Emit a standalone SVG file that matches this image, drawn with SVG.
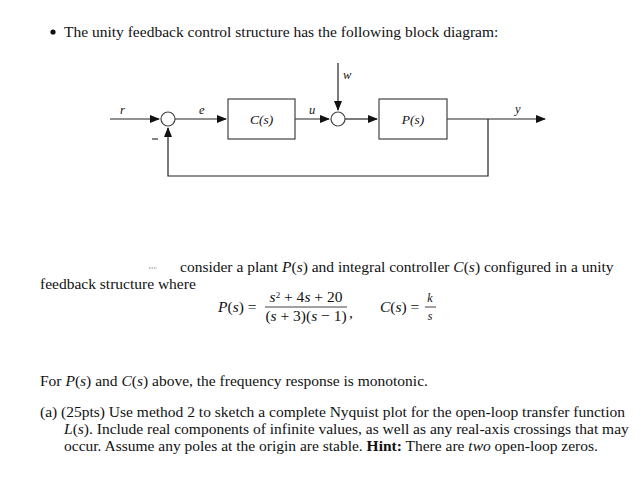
<svg xmlns="http://www.w3.org/2000/svg" width="641" height="478" viewBox="0 0 641 478">
<style>
.t{font-family:"Liberation Serif",serif;font-size:15.5px;fill:#111}
.m{font-family:"Liberation Serif",serif;font-style:italic;fill:#111}
.l{stroke:#222;stroke-width:1.2;fill:none}
.b{fill:#fff;stroke:#444;stroke-width:1.2}
</style>
<defs><marker id="a" markerWidth="10" markerHeight="8" refX="9" refY="4" orient="auto" markerUnits="userSpaceOnUse"><path d="M0,0L10,4L0,8z" fill="#111"/></marker></defs>
<rect width="641" height="478" fill="#fff"/>
<circle cx="53" cy="32" r="2.6" fill="#111"/>
<text class="t" x="64" y="37" font-size="17">The unity feedback control structure has the following block diagram:</text>
<g id="connectors">
<path class="l" d="M110,119H159" marker-end="url(#a)"/>
<path class="l" d="M175,119H226" marker-end="url(#a)"/>
<path class="l" d="M295,119H329" marker-end="url(#a)"/>
<path class="l" d="M338,63V110" marker-end="url(#a)"/>
<path class="l" d="M345,119H377" marker-end="url(#a)"/>
<path class="l" d="M447,119H545" marker-end="url(#a)"/>
<path class="l" d="M488,119V176H168V128" marker-end="url(#a)"/>
</g>
<g id="sum1"><circle class="b" cx="168" cy="119" r="7"/></g>
<g id="sum2"><circle class="b" cx="338" cy="119" r="7"/></g>
<g id="C"><rect class="b" x="228" y="99" width="67" height="40"/><text class="m" x="261.5" y="124" font-size="13.5" text-anchor="middle">C(s)</text></g>
<g id="P"><rect class="b" x="379" y="99" width="68" height="40"/><text class="m" x="413" y="124" font-size="13.5" text-anchor="middle">P(s)</text></g>
<g font-size="12.5">
<text class="m" x="120" y="114">r</text>
<text class="m" x="199" y="114">e</text>
<text class="m" x="309" y="114">u</text>
<text class="m" x="343" y="79">w</text>
<text class="m" x="515" y="113">y</text>
</g>
<path d="M152,139H158" stroke="#222" stroke-width="1.1"/>
<path d="M149,268H157" stroke="#888" stroke-width="1" stroke-dasharray="1.5 1"/>
<text class="t" x="180" y="272">consider a plant <tspan font-style="italic">P</tspan>(<tspan font-style="italic">s</tspan>) and integral controller <tspan font-style="italic">C</tspan>(<tspan font-style="italic">s</tspan>) configured in a unity</text>
<text class="t" x="40" y="289">feedback structure where</text>
<text class="t" x="218" y="312" font-size="14"><tspan font-style="italic">P</tspan>(<tspan font-style="italic">s</tspan>) =</text>
<text class="t" x="306" y="302" font-size="13" text-anchor="middle"><tspan font-style="italic">s</tspan><tspan dy="-4" font-size="9">2</tspan><tspan dy="4"> + 4</tspan><tspan font-style="italic">s</tspan> + 20</text>
<path d="M265,307H347" stroke="#111" stroke-width="0.8"/>
<text class="t" x="306" y="321" font-size="13" text-anchor="middle">(<tspan font-style="italic">s</tspan> + 3)(<tspan font-style="italic">s</tspan> − 1)</text>
<text class="t" x="349" y="318" font-size="13">,</text>
<text class="t" x="380" y="312" font-size="14"><tspan font-style="italic">C</tspan>(<tspan font-style="italic">s</tspan>) =</text>
<text class="m" x="430" y="302" font-size="12" text-anchor="middle">k</text>
<path d="M425,307H436" stroke="#111" stroke-width="0.8"/>
<text class="m" x="430" y="320" font-size="12" text-anchor="middle">s</text>
<text class="t" x="40" y="386">For <tspan font-style="italic">P</tspan>(<tspan font-style="italic">s</tspan>) and <tspan font-style="italic">C</tspan>(<tspan font-style="italic">s</tspan>) above, the frequency response is monotonic.</text>
<text class="t" x="40" y="417">(a) (25pts) Use method 2 to sketch a complete Nyquist plot for the open-loop transfer function</text>
<text class="t" x="64" y="434"><tspan font-style="italic">L</tspan>(<tspan font-style="italic">s</tspan>). Include real components of infinite values, as well as any real-axis crossings that may</text>
<text class="t" x="64" y="451">occur. Assume any poles at the origin are stable. <tspan font-weight="bold">Hint:</tspan> There are <tspan font-style="italic">two</tspan> open-loop zeros.</text>
</svg>
